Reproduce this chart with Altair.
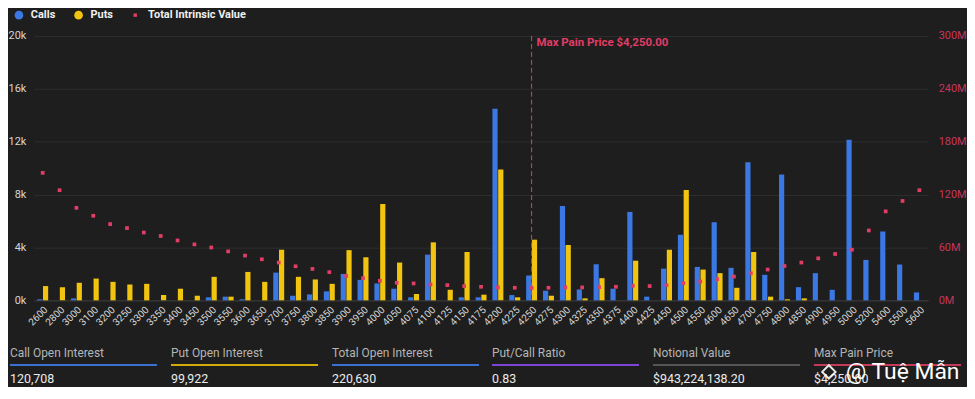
import altair as alt
import pandas as pd

# ---------------- data ----------------
strikes = [2600, 2800, 3000, 3100, 3200, 3250, 3300, 3350, 3400, 3450, 3500, 3550,
           3600, 3650, 3700, 3750, 3800, 3850, 3900, 3950, 4000, 4050, 4075, 4100,
           4125, 4150, 4175, 4200, 4225, 4250, 4275, 4300, 4325, 4350, 4375, 4400,
           4425, 4450, 4500, 4550, 4600, 4650, 4700, 4750, 4800, 4850, 4900, 4950,
           5000, 5200, 5400, 5500, 5600]

calls = [80, 0, 150, 0, 0, 0, 0, 0, 0, 0, 230, 280,
         80, 0, 2100, 350, 450, 680, 2000, 1550, 1280, 880, 230, 3460,
         0, 230, 230, 14490, 400, 1880, 730, 7140, 830, 2730, 880, 6690,
         280, 2400, 4960, 2530, 5910, 2460, 10450, 1930, 9520, 1000, 2060, 800,
         12160, 3060, 5210, 2710, 600]

puts = [1080, 1000, 1330, 1650, 1400, 1200, 1250, 400, 880, 350, 1780, 280,
        2150, 1400, 3830, 1780, 1580, 1250, 3800, 3260, 7290, 2860, 480, 4390,
        800, 3660, 430, 9900, 230, 4590, 350, 4190, 150, 1680, 0, 3000,
        0, 3830, 8350, 2330, 2060, 950, 3660, 280, 80, 150, 0, 0,
        0, 0, 0, 0, 0]

intrinsic_musd = [144.7, 125, 105, 96, 86.5, 82, 77, 73, 68, 63.5, 60, 55.6,
                  50.8, 46.6, 42.9, 38.7, 35.7, 32, 27.8, 25.2, 22.2, 20, 19.2, 18,
                  17.3, 16.2, 15.4, 14.7, 14.3, 14.1, 14.3, 14.7, 14.7, 15, 15.4, 16.5,
                  16.2, 17.3, 19.5, 21.4, 24, 27, 30.8, 35, 39, 42.9, 47.7, 52.6,
                  57.5, 79.3, 101, 112.8, 125]

max_pain = 4250
series_names = ["Calls", "Puts"]
legend_labels = ["Calls", "Puts", "Total Intrinsic Value"]

left_ticks = [0, 4000, 8000, 12000, 16000, 20000]
right_ticks = [0, 60e6, 120e6, 180e6, 240e6, 300e6]

footer_labels = ["Call Open Interest", "Put Open Interest", "Total Open Interest",
                 "Put/Call Ratio", "Notional Value", "Max Pain Price"]
footer_values = ["120,708", "99,922", "220,630", "0.83", "$943,224,138.20", "$4,250.00"]
watermark = "@ Tuệ Mẫn"

# ---------------- styles ----------------
BG = "#1e1e1e"
BLUE = "#3b78e3"
YELLOW = "#f1c40f"
PINK = "#e23d66"
AXIS_PINK = "#c8365c"
TEXT = "#d6d6d6"
GRID = "#2d2d2d"
FONT = "Roboto"
footer_colors = ["#3b6fd0", "#d2aa0a", "#3b6fd0", "#7b45d6", "#555555", "#c43a5b"]

W, H = 900, 266

strike_str = [str(s) for s in strikes]
n = len(strikes)

bars_df = pd.DataFrame({
    "strike": strike_str * 2,
    "series": [series_names[0]] * n + [series_names[1]] * n,
    "oi": calls + puts,
})
iv_df = pd.DataFrame({"strike": strike_str, "iv": [v * 1e6 for v in intrinsic_musd]})
mp_df = pd.DataFrame({"strike": [str(max_pain)],
                      "label": [f"Max Pain Price ${max_pain:,.2f}"]})

x_enc = alt.X(
    "strike:O", sort=strike_str,
    scale=alt.Scale(paddingInner=0.35, paddingOuter=0.2),
    axis=alt.Axis(title=None, labelAngle=-45, labelColor=TEXT, labelFontSize=10,
                  labelFont=FONT, ticks=False, domainColor="#3a3a3a",
                  labelPadding=4, labelOverlap=False),
)

bars = alt.Chart(bars_df).mark_bar().encode(
    x=x_enc,
    xOffset=alt.XOffset("series:N", sort=series_names,
                        scale=alt.Scale(paddingInner=0.1)),
    y=alt.Y("oi:Q", scale=alt.Scale(domain=[0, 20000]),
            axis=alt.Axis(orient="left", title=None, values=left_ticks, format="~s",
                          labelColor=TEXT, labelFontSize=11, labelFont=FONT,
                          ticks=False, domain=False, gridColor=GRID, labelPadding=8)),
    color=alt.Color("series:N", scale=alt.Scale(domain=series_names, range=[BLUE, YELLOW]),
                    legend=None),
)

points = alt.Chart(iv_df).mark_square(size=14, color=PINK, opacity=1).encode(
    x=x_enc,
    y=alt.Y("iv:Q", scale=alt.Scale(domain=[0, 300e6]),
            axis=alt.Axis(orient="right", title=None, values=right_ticks, format="~s",
                          labelColor=AXIS_PINK, labelFontSize=11, labelFont=FONT,
                          ticks=False, domain=False, grid=False, labelPadding=10)),
)

rule = alt.Chart(mp_df).mark_rule(color=PINK, strokeDash=[5, 3], strokeWidth=1).encode(
    x=alt.X("strike:O", sort=strike_str),
)
mp_text = alt.Chart(mp_df).mark_text(
    align="left", baseline="middle", dx=5, color=PINK, fontSize=11.5,
    fontWeight="bold", font=FONT,
).encode(x=alt.X("strike:O", sort=strike_str), y=alt.value(7), text="label:N")

# ---------------- legend (top) ----------------
leg_layers = []
leg_marks = [(-15, BLUE, "circle", 75), (45, YELLOW, "circle", 75), (102, PINK, "square", 12)]
leg_text_x = [-3, 57, 115]
for lab, (mx, col, shape, sz), tx in zip(legend_labels, leg_marks, leg_text_x):
    d = pd.DataFrame({"label": [lab]})
    if shape == "circle":
        m = alt.Chart(d).mark_circle(size=sz, color=col, opacity=1)
    else:
        m = alt.Chart(d).mark_square(size=sz, color=col, opacity=1)
    leg_layers.append(m.encode(x=alt.value(mx), y=alt.value(-21)))
    leg_layers.append(alt.Chart(d).mark_text(
        align="left", baseline="middle", color="#f0f0f0", fontSize=11,
        fontWeight="bold", font=FONT).encode(x=alt.value(tx), y=alt.value(-21), text="label:N"))

# ---------------- footer ----------------
foot_layers = []
col_x = [-24, 138, 300, 461, 623, 785]
for lab, val, col, fx in zip(footer_labels, footer_values, footer_colors, col_x):
    d = pd.DataFrame({"label": [lab], "value": [val]})
    foot_layers.append(alt.Chart(d).mark_text(
        align="left", baseline="middle", color="#b5b5b5", fontSize=12, font=FONT
    ).encode(x=alt.value(fx), y=alt.value(319), text="label:N"))
    foot_layers.append(alt.Chart(d).mark_rule(color=col, strokeWidth=2).encode(
        x=alt.value(fx), x2=alt.value(fx + 148), y=alt.value(331)))
    foot_layers.append(alt.Chart(d).mark_text(
        align="left", baseline="middle", color="#ececec", fontSize=12.5, font=FONT
    ).encode(x=alt.value(fx), y=alt.value(345), text="value:N"))

wm_df = pd.DataFrame({"t": [watermark]})
wm_logo = alt.Chart(wm_df).mark_point(shape="diamond", filled=False, color="#ffffff",
                                      size=180, strokeWidth=2, opacity=0.9).encode(
    x=alt.value(800), y=alt.value(338))
wm_text = alt.Chart(wm_df).mark_text(
    align="left", baseline="middle", color="#ffffff", fontSize=23, font=FONT
).encode(x=alt.value(817), y=alt.value(338), text="t:N")

chart = alt.layer(
    bars, points, rule, mp_text, *leg_layers, *foot_layers, wm_logo, wm_text
).resolve_scale(y="independent").properties(
    width=W, height=H, background=BG, padding=0
).configure_view(stroke=None)

chart.save("out.html", embed_options={"renderer": "svg", "actions": False})
